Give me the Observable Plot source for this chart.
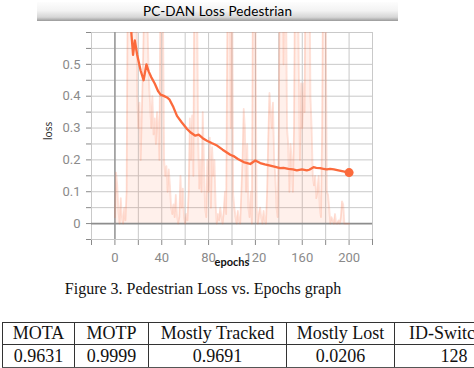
<!DOCTYPE html>
<html>
<head>
<meta charset="utf-8">
<script src="https://cdn.jsdelivr.net/npm/d3@7"></script>
<script src="https://cdn.jsdelivr.net/npm/@observablehq/plot@0.6"></script>
<style>
  html, body { margin: 0; padding: 0; background: #fff; }
  body { width: 474px; height: 368px; overflow: hidden; position: relative; }
  #titlebar {
    position: absolute; left: 37px; top: 2px; width: 361px; height: 19px;
    background: linear-gradient(to bottom, #fdfdfd 0%, #f3f3f3 45%, #d6d6d6 80%, #9a9a9a 100%);
    font-family: Lato, "Open Sans", sans-serif; font-size: 13.5px; color: #000;
    text-align: center; line-height: 18px; letter-spacing: 0.1px;
  }
  #chart { position: absolute; left: 0; top: 0; }
  #caption {
    position: absolute; left: 0; width: 406px; top: 280px; text-align: center;
    font-family: "Liberation Serif", "Times New Roman", serif; font-size: 16px; color: #111;
  }
  #tbl {
    position: absolute; left: 2px; top: 322px; border-collapse: collapse;
    font-family: "Liberation Serif", "Times New Roman", serif; font-size: 18px; color: #111;
  }
  #tbl td { border: 1.3px solid #333; text-align: center; padding: 0; white-space: nowrap; }
  #tbl tr:first-child td { height: 20px; }
  #tbl tr:last-child td { height: 22px; border-bottom: 2.5px solid #555; }
</style>
</head>
<body>
<div id="titlebar"></div>
<div id="chart"></div>
<div id="caption"></div>
<table id="tbl"></table>
<script>
// ---- data ----
const chartTitle = "PC-DAN Loss Pedestrian";
const captionText = "Figure 3. Pedestrian Loss vs. Epochs graph";
const xLabel = "epochs";
const yLabel = "loss";

const xGridTicks = [-20, 0, 20, 40, 60, 80, 100, 120, 140, 160, 180, 200, 220];
const xTickLabels = [0, 40, 80, 120, 160, 200];
const yGridTicks = [-0.05, 0, 0.05, 0.1, 0.15, 0.2, 0.25, 0.3, 0.35, 0.4, 0.45, 0.5, 0.55, 0.6];
const yTickLabels = [0, 0.1, 0.2, 0.3, 0.4, 0.5];

// raw (unsmoothed) loss per epoch, 0..200
const rawLoss = [
  0.02, 0.16, 0.12, 0.04, 0.0, 0.08, 0.02, 0.0, 0.05, 0.01,
  0.1, 0.8, 0.9, 0.7, 0.95, 0.6, 0.85, 0.75, 0.9, 0.4,
  0.3, 0.38, 0.2, 0.35, 0.5, 0.7, 0.9, 0.95, 0.6, 0.45,
  0.38, 0.3, 0.4, 0.28, 0.33, 0.25, 0.35, 0.3, 0.2, 0.8,
  0.95, 0.7, 0.2, 0.15, 0.18, 0.1, 0.17, 0.12, 0.05, 0.03,
  0.06, 0.02, 0.09, 0.03, 0.0, 0.02, 0.15, 0.05, 0.11, 0.02,
  0.0, 0.03, 0.01, 0.1, 0.33, 0.2, 0.34, 0.15, 0.9, 0.95,
  0.8, 0.3, 0.11, 0.2, 0.1, 0.35, 0.2, 0.05, 0.02, 0.2,
  0.1, 0.27, 0.05, 0.24, 0.15, 0.2, 0.06, 0.0, 0.03, 0.01,
  0.05, 0.02, 0.0, 0.04, 0.1, 0.03, 0.6, 0.95, 0.9, 0.3,
  0.95, 0.09, 0.05, 0.02, 0.0, 0.04, 0.01, 0.0, 0.1, 0.2,
  0.36, 0.3, 0.1, 0.25, 0.05, 0.02, 0.1, 0.0, 0.9, 0.95,
  0.7, 0.05, 0.0, 0.03, 0.05, 0.02, 0.0, 0.04, 0.01, 0.0,
  0.1, 0.27, 0.41, 0.35, 0.3, 0.38, 0.2, 0.15, 0.05, 0.02,
  0.3, 0.95, 0.7, 0.9, 0.5, 0.95, 0.8, 0.3, 0.25, 0.1,
  0.25, 0.2, 0.1, 0.3, 0.95, 0.8, 0.9, 0.5, 0.2, 0.44,
  0.3, 0.44, 0.35, 0.95, 0.9, 0.7, 0.95, 0.4, 0.3, 0.15,
  0.12, 0.15, 0.08, 0.1, 0.15, 0.05, 0.02, 0.3, 0.95, 0.9,
  0.7, 0.1, 0.09, 0.05, 0.0, 0.02, 0.01, 0.0, 0.03, 0.0,
  0.0, 0.01, 0.0, 0.02, 0.07, 0.06, 0.0, 0.0, 0.0, 0.0,
  0.0
];

// smoothed loss curve
const smoothEpochs = [11, 13, 14, 15.5, 17, 19, 22, 24.5, 26.9, 28.8, 31, 34, 37, 39, 41.7, 44.5, 46.7, 50, 53, 57, 61.6, 65, 68.7, 71.5, 75, 78.6, 83, 87.2, 92, 98.5, 101.3, 105, 109.9, 113, 115.6, 119.9, 124.1, 128, 132.6, 137, 141.1, 144, 148.2, 152, 155.4, 159.7, 163.9, 166, 169.6, 172, 175.3, 178, 181, 183.8, 187, 190.9, 195, 200];
const smoothLoss   = [0.72, 0.64, 0.6, 0.53, 0.575, 0.53, 0.48, 0.45, 0.5, 0.478, 0.46, 0.44, 0.415, 0.405, 0.401, 0.396, 0.389, 0.365, 0.338, 0.318, 0.297, 0.285, 0.276, 0.279, 0.268, 0.26, 0.252, 0.245, 0.232, 0.216, 0.212, 0.203, 0.193, 0.19, 0.187, 0.198, 0.19, 0.186, 0.182, 0.178, 0.174, 0.175, 0.172, 0.17, 0.167, 0.17, 0.167, 0.169, 0.177, 0.175, 0.174, 0.172, 0.17, 0.172, 0.17, 0.167, 0.164, 0.16];

const tableHeaders = ["MOTA", "MOTP", "Mostly Tracked", "Mostly Lost", "ID-Switches"];
const tableValues  = ["0.9631", "0.9999", "0.9691", "0.0206", "128"];
const tableColWidths = [71, 73, 137, 107, 118];

// ---- build ----
document.getElementById("titlebar").textContent = chartTitle;
document.getElementById("caption").textContent = captionText;

const raw = rawLoss.map((v, i) => ({epoch: i, loss: v}));
const smooth = smoothEpochs.map((e, i) => ({epoch: e, loss: smoothLoss[i]}));
const last = [smooth[smooth.length - 1]];

const orange = "#fb6a3c";

const plot = Plot.plot({
  width: 474,
  height: 270,
  marginTop: 32,
  marginBottom: 31,
  marginLeft: 91,
  marginRight: 102,
  style: {background: "transparent", fontFamily: "Roboto, sans-serif", fontSize: "13px", color: "#8a8a8a"},
  x: {domain: [-20, 220], ticks: xGridTicks, tickSize: 6, tickPadding: 7,
      tickFormat: d => xTickLabels.includes(d) ? String(d) : "", label: null},
  y: {domain: [-0.05, 0.6], ticks: yGridTicks, tickSize: 5, tickPadding: 6,
      tickFormat: d => {
        const m = yTickLabels.find(t => Math.abs(t - d) < 1e-9);
        return m === undefined ? "" : (m === 0 ? "0" : m.toFixed(1));
      }, label: null},
  marks: [
    Plot.ruleX(xGridTicks, {stroke: "#c9c9c9", strokeWidth: 1}),
    Plot.ruleY(yGridTicks, {stroke: "#c9c9c9", strokeWidth: 1}),
    Plot.areaY(raw, {x: "epoch", y: "loss", fill: orange, fillOpacity: 0.1, clip: true}),
    Plot.ruleX([0], {stroke: "#8d8d8d", strokeWidth: 1.3}),
    Plot.ruleY([0], {stroke: "#8d8d8d", strokeWidth: 1.8}),
    Plot.line(raw, {x: "epoch", y: "loss", stroke: orange, strokeOpacity: 0.2, strokeWidth: 1.8, clip: true}),
    Plot.line(smooth, {x: "epoch", y: "loss", stroke: orange, strokeWidth: 2.3, clip: true, curve: "linear"}),
    Plot.dot(last, {x: "epoch", y: "loss", r: 4.5, fill: orange, stroke: "none"}),
    Plot.text([xLabel], {frameAnchor: "bottom", dy: 26, fill: "#111", fontWeight: "bold", fontSize: 11, fontFamily: "Lato, sans-serif"}),
    Plot.text([yLabel], {frameAnchor: "left", dx: -43, dy: 4, rotate: -90, fill: "#333", fontSize: 11, fontFamily: "Lato, sans-serif"})
  ]
});
document.getElementById("chart").appendChild(plot);

const tbl = document.getElementById("tbl");
[tableHeaders, tableValues].forEach(row => {
  const tr = document.createElement("tr");
  row.forEach((cell, i) => {
    const td = document.createElement("td");
    td.textContent = cell;
    td.style.width = tableColWidths[i] + "px";
    td.style.minWidth = tableColWidths[i] + "px";
    tr.appendChild(td);
  });
  tbl.appendChild(tr);
});
</script>
</body>
</html>
